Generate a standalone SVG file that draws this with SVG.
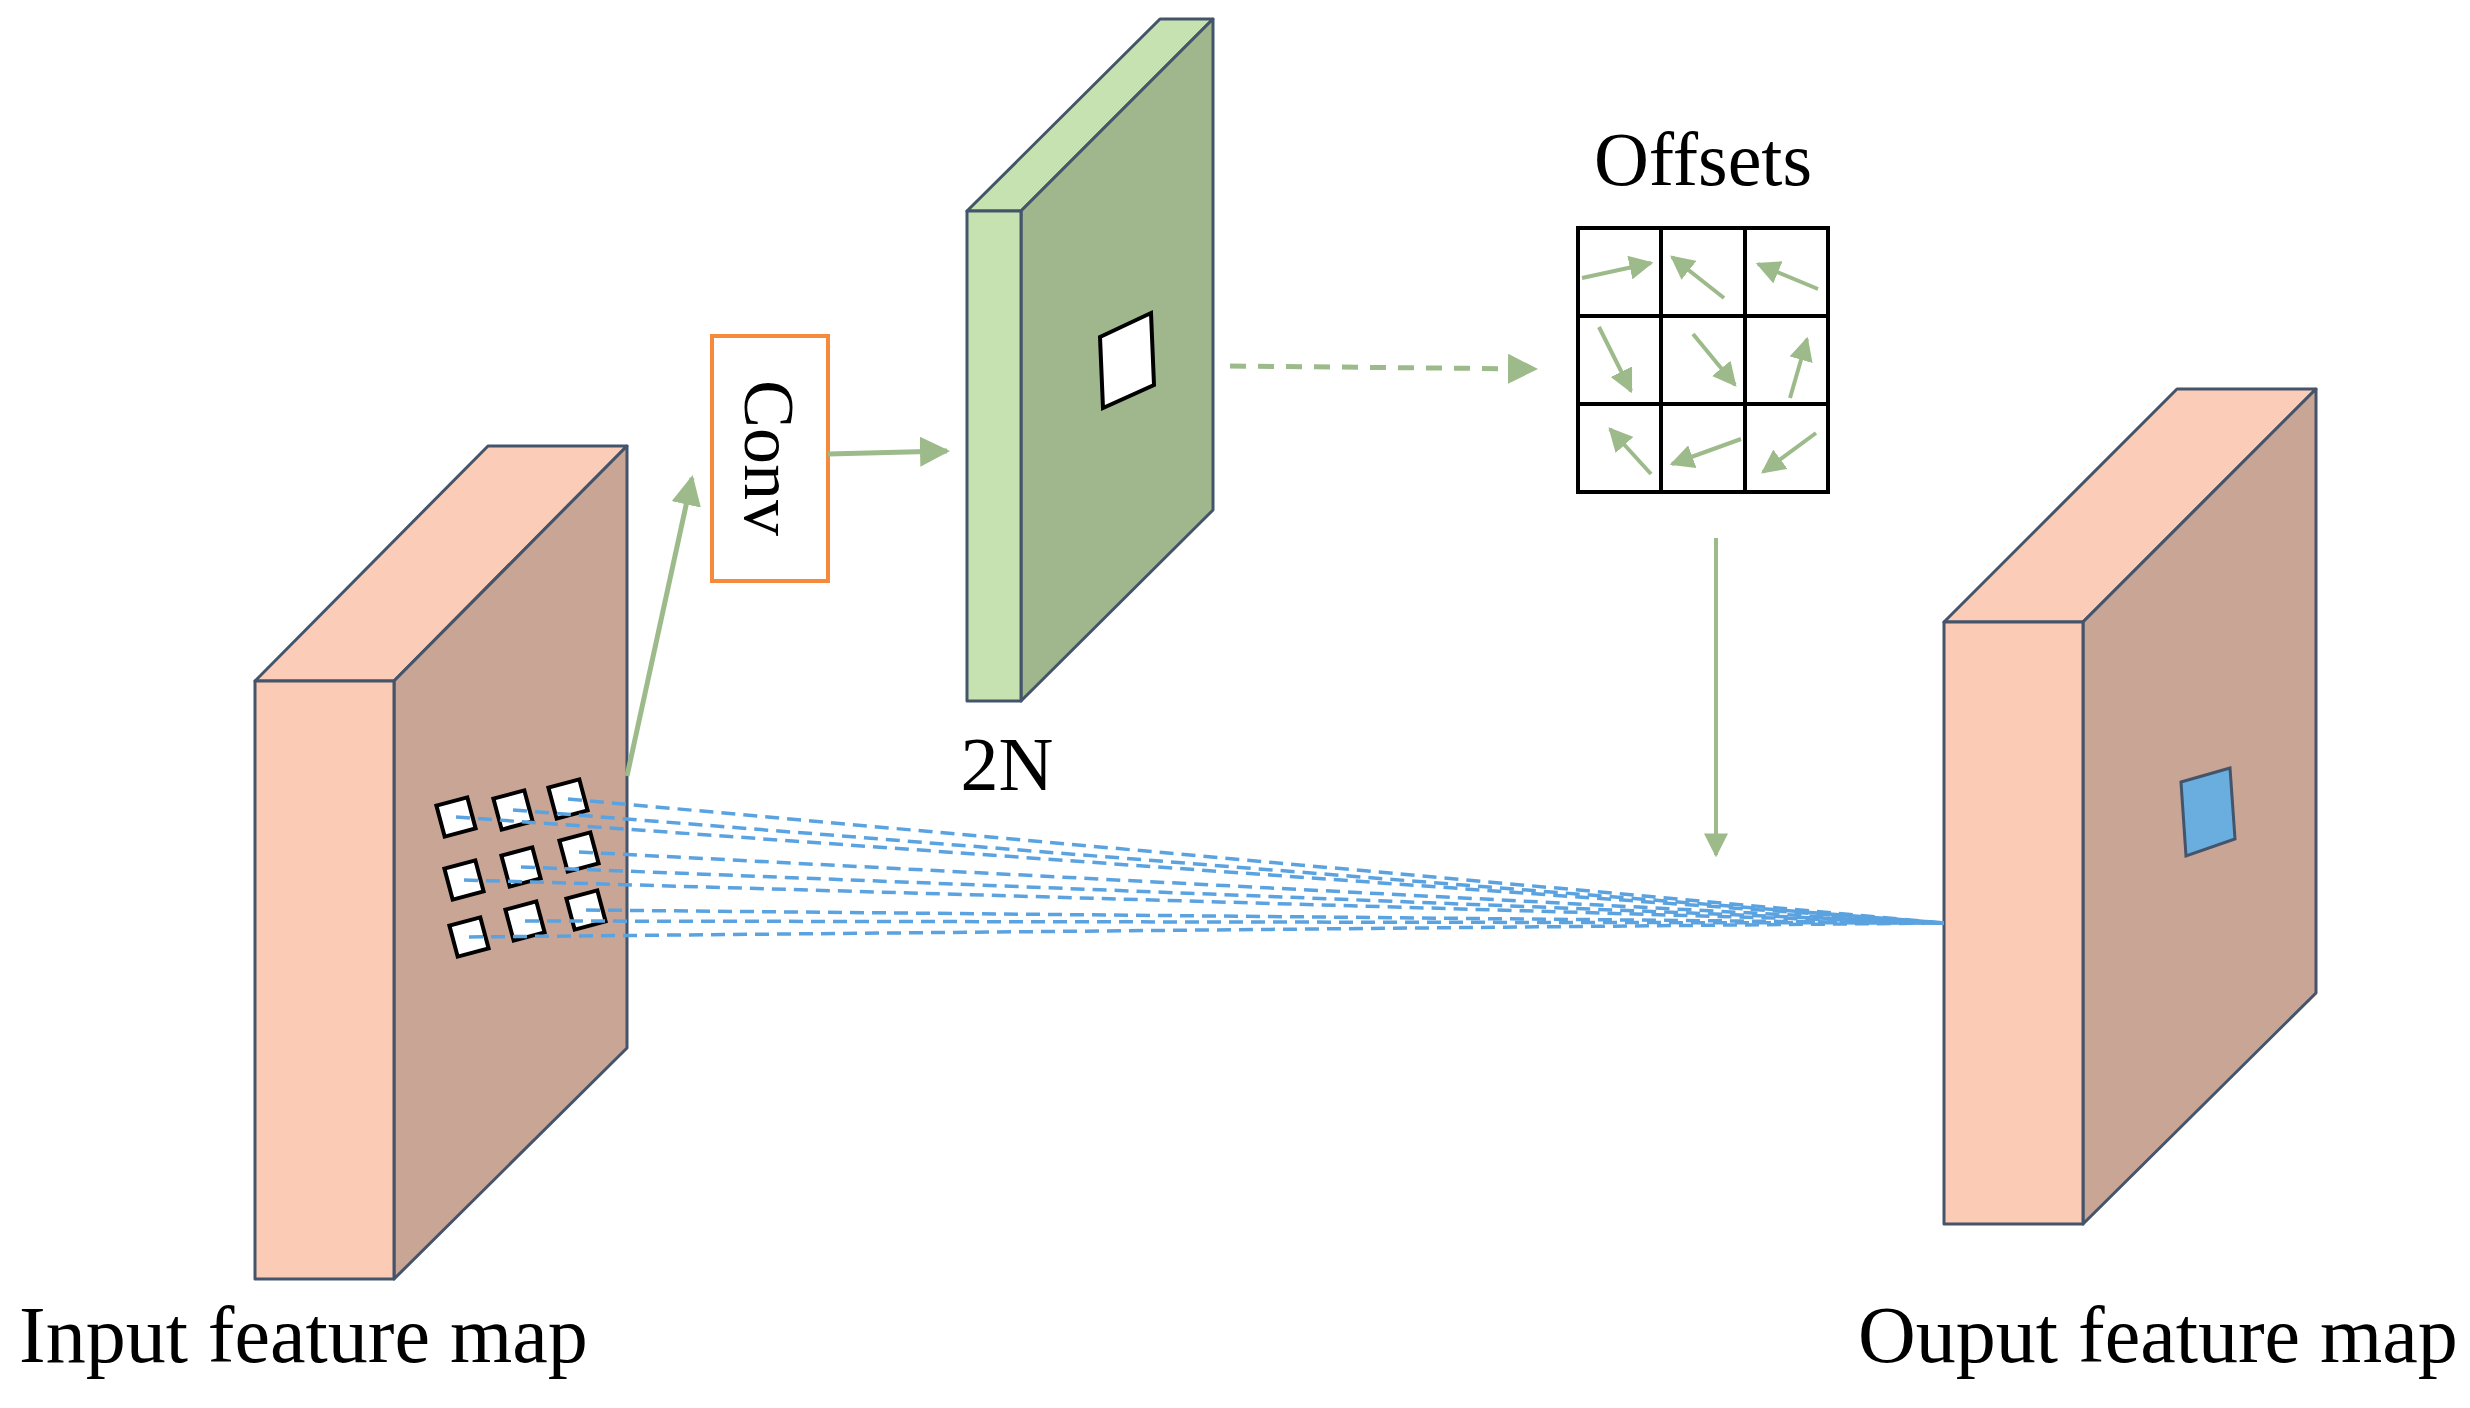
<svg xmlns="http://www.w3.org/2000/svg" width="2470" height="1408" viewBox="0 0 2470 1408">
<style>
.t{font-family:"Liberation Serif",serif;fill:#000}
.ed{stroke:#44546a;stroke-width:3;stroke-linejoin:round}
.g{stroke:#9dbb8a;stroke-width:5;fill:none}
.gs{stroke:#9dbb8a;stroke-width:4;fill:none}
.b{stroke:#5ba3e0;stroke-width:3.5;stroke-dasharray:14 8;fill:none}
.sq{fill:#fff;stroke:#000;stroke-width:4}
</style>
<defs>
<marker id="ah" viewBox="0 0 10 10" refX="9" refY="5" markerWidth="6" markerHeight="6" orient="auto" markerUnits="strokeWidth"><path d="M0,0L10,5L0,10z" fill="#9dbb8a"/></marker>
<marker id="ah2" viewBox="0 0 10 10" refX="9" refY="5" markerWidth="6" markerHeight="6" orient="auto" markerUnits="strokeWidth"><path d="M0,0L10,5L0,10z" fill="#9dbb8a"/></marker>
</defs>
<rect width="2470" height="1408" fill="#fff"/>
<g id="input">
<polygon class="ed" fill="#fbcdb8" points="255,681 488,446 627,446 394,681"/>
<polygon class="ed" fill="#c9a596" points="394,681 627,446 627,1048 394,1279"/>
<rect class="ed" fill="#fbcbb5" x="255" y="681" width="139" height="598"/>
<g class="sq">
<rect x="440" y="801" width="32" height="32" transform="rotate(-15 456 817)"/>
<rect x="497" y="794" width="32" height="32" transform="rotate(-15 513 810)"/>
<rect x="552" y="783" width="32" height="32" transform="rotate(-15 568 799)"/>
<rect x="448" y="864" width="32" height="32" transform="rotate(-15 464 880)"/>
<rect x="505" y="851" width="32" height="32" transform="rotate(-15 521 867)"/>
<rect x="563" y="836" width="32" height="32" transform="rotate(-15 579 852)"/>
<rect x="453" y="921" width="32" height="32" transform="rotate(-15 469 937)"/>
<rect x="509" y="905" width="32" height="32" transform="rotate(-15 525 921)"/>
<rect x="570" y="894" width="32" height="32" transform="rotate(-15 586 910)"/>
</g>
<text class="t" x="19" y="1362" font-size="80">Input feature map</text>
</g>
<g id="conv">
<rect x="712" y="336" width="116" height="245" fill="#fff" stroke="#f58a3c" stroke-width="4"/>
<text class="t" font-size="72" text-anchor="middle" transform="translate(745,458) rotate(90)">Conv</text>
</g>
<g id="mid">
<polygon class="ed" fill="#c6e2b0" points="967,211 1160,19 1213,19 1021,211"/>
<polygon class="ed" fill="#a0b78e" points="1021,211 1213,19 1213,510 1021,701"/>
<rect class="ed" fill="#c6e2b0" x="967" y="211" width="54" height="490"/>
<polygon fill="#fff" stroke="#000" stroke-width="4" points="1100,337 1151,313 1154,385 1103,408"/>
<text class="t" x="1007" y="790" font-size="76" text-anchor="middle">2N</text>
</g>
<g id="offsets">
<text class="t" x="1703" y="185" font-size="76" text-anchor="middle">Offsets</text>
<g stroke="#000" stroke-width="4" fill="none">
<rect x="1578" y="228" width="250" height="264"/>
<line x1="1661" y1="228" x2="1661" y2="492"/><line x1="1745" y1="228" x2="1745" y2="492"/>
<line x1="1578" y1="316" x2="1828" y2="316"/><line x1="1578" y1="404" x2="1828" y2="404"/>
</g>
<g class="gs" marker-end="url(#ah2)">
<line x1="1582" y1="278" x2="1651" y2="263"/>
<line x1="1724" y1="298" x2="1672" y2="257"/>
<line x1="1818" y1="289" x2="1758" y2="264"/>
<line x1="1599" y1="327" x2="1631" y2="391"/>
<line x1="1693" y1="334" x2="1735" y2="385"/>
<line x1="1790" y1="398" x2="1807" y2="339"/>
<line x1="1651" y1="474" x2="1610" y2="429"/>
<line x1="1741" y1="439" x2="1672" y2="464"/>
<line x1="1816" y1="433" x2="1763" y2="472"/>
</g>
</g>
<g id="output">
<polygon class="ed" fill="#fbcdb8" points="1944,622 2177,389 2316,389 2083,622"/>
<polygon class="ed" fill="#c9a596" points="2083,622 2316,389 2316,993 2083,1224"/>
<rect class="ed" fill="#fbcbb5" x="1944" y="622" width="139" height="602"/>
<polygon fill="#6aaee0" stroke="#44546a" stroke-width="3" points="2181,782 2230,768 2235,839 2186,856"/>
<text class="t" x="1858" y="1362" font-size="80">Ouput feature map</text>
</g>
<g id="connectors">
<line class="g" x1="627" y1="776" x2="692" y2="478" marker-end="url(#ah)"/>
<line class="g" x1="828" y1="454" x2="947" y2="451" marker-end="url(#ah)"/>
<line class="g" x1="1230" y1="366" x2="1535" y2="369" stroke-dasharray="16 12" marker-end="url(#ah)"/>
<line class="gs" x1="1716" y1="538" x2="1716" y2="855" marker-end="url(#ah2)"/>
<g class="b">
<line x1="456" y1="817" x2="1944" y2="923"/>
<line x1="513" y1="810" x2="1944" y2="923"/>
<line x1="568" y1="799" x2="1944" y2="923"/>
<line x1="464" y1="880" x2="1944" y2="923"/>
<line x1="521" y1="867" x2="1944" y2="923"/>
<line x1="579" y1="852" x2="1944" y2="923"/>
<line x1="469" y1="937" x2="1944" y2="923"/>
<line x1="525" y1="921" x2="1944" y2="923"/>
<line x1="586" y1="910" x2="1944" y2="923"/>
</g>
</g>
</svg>
